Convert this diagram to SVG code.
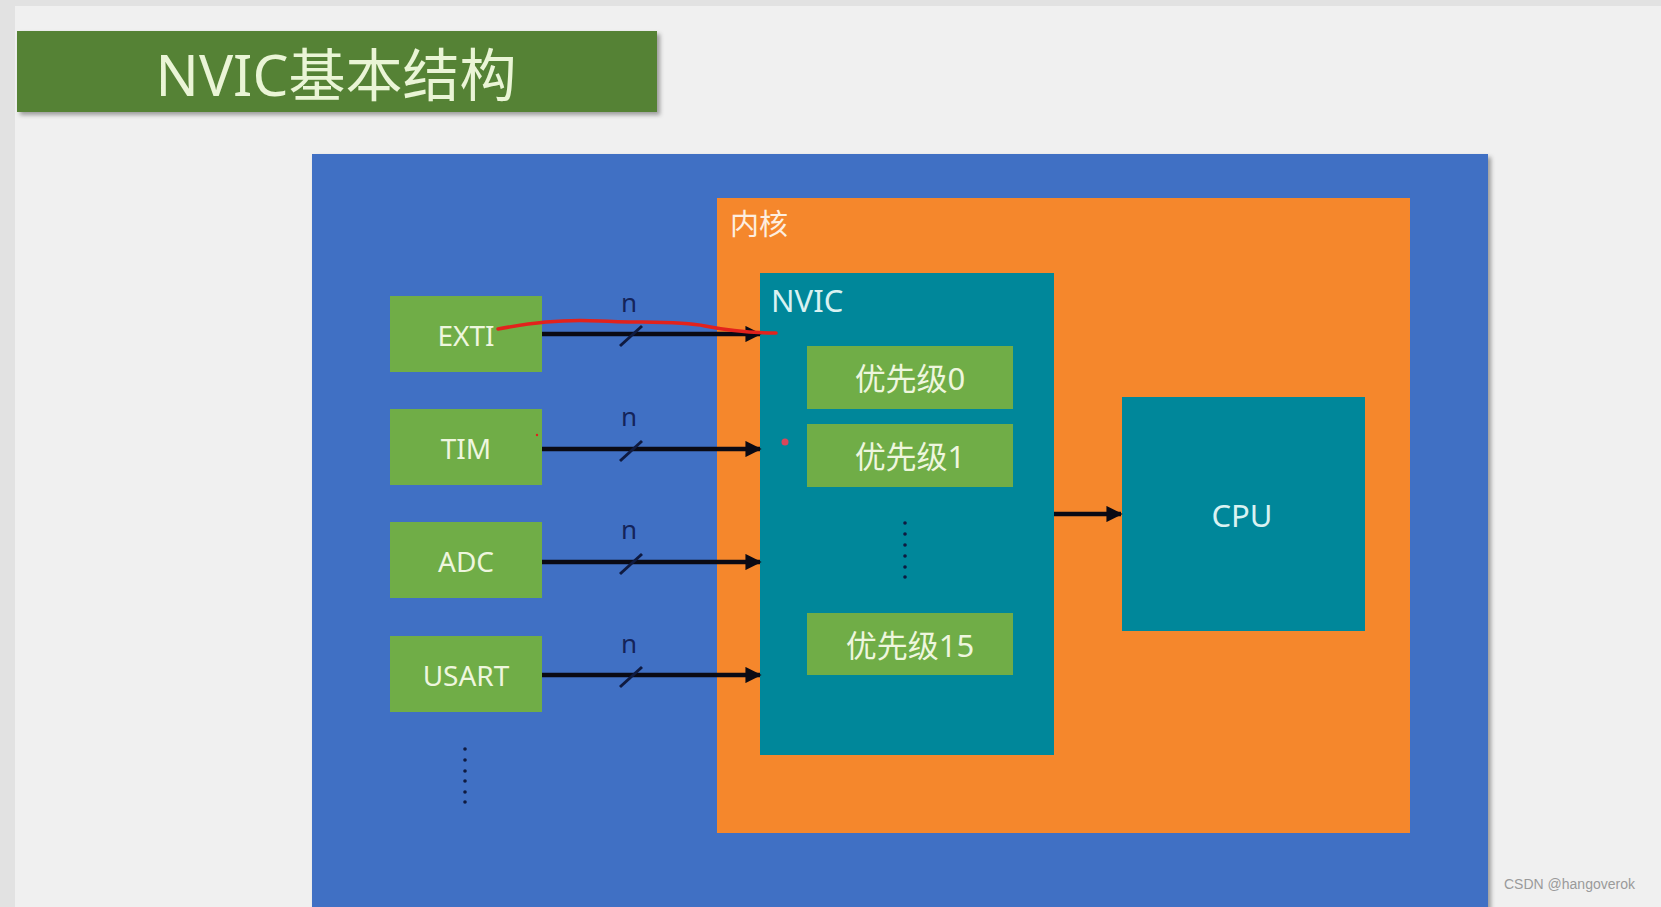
<svg xmlns="http://www.w3.org/2000/svg" width="1661" height="907" viewBox="0 0 1661 907">
<style>
.t{font-family:"Noto Sans","Noto Sans CJK SC",sans-serif;text-anchor:middle;dominant-baseline:central}
.src{fill:#70ad47}
.src-t{fill:#eef6de;font-size:28px}
.pri-t{fill:#eef6de;font-size:31px}
.pri{fill:#70ad47}
.teal{fill:#00879a}
.conn{stroke:#0a0a14;stroke-width:4.5;fill:none}
.slash{stroke:#0f1a40;stroke-width:3}
.n{fill:#14245a;font-size:26px}
.dot{fill:#0f1a40}
</style>
<defs>
<marker id="ah" viewBox="0 0 10 10" refX="9" refY="5" markerWidth="3.6" markerHeight="3.6" orient="auto" markerUnits="strokeWidth">
<path d="M0,0 L10,5 L0,10 z" fill="#0a0a14"/>
</marker>
<filter id="sh" x="-5%" y="-10%" width="115%" height="130%">
<feDropShadow dx="3" dy="3" stdDeviation="2" flood-color="#000" flood-opacity="0.35"/>
</filter>
</defs>
<rect x="0" y="0" width="1661" height="907" fill="#e2e2e2"/>
<rect x="15" y="6" width="1646" height="901" fill="#f0f0f0"/>

<g id="title">
<rect x="17" y="31" width="640" height="81" fill="#548235" filter="url(#sh)"/>
<text x="336" y="74" class="t" style="font-size:57px;fill:#eaf5d6">NVIC基本结构</text>
</g>

<g id="chip">
<rect x="312" y="154" width="1176" height="760" fill="#4170c4" filter="url(#sh)"/>
</g>

<g id="core">
<rect x="717" y="198" width="693" height="635" fill="#f5872c"/>
<text x="730" y="223" class="t" style="font-size:29px;fill:#fdeee0;text-anchor:start">内核</text>
</g>

<g id="nvic">
<rect x="760" y="273" width="294" height="482" class="teal"/>
<text x="771" y="300" class="t" style="font-size:31px;fill:#d9f2f2;text-anchor:start">NVIC</text>
</g>

<g id="pri0">
<rect x="807" y="346" width="206" height="63" class="pri"/>
<text x="910" y="378" class="t pri-t">优先级0</text>
</g>
<g id="pri1">
<rect x="807" y="424" width="206" height="63" class="pri"/>
<text x="910" y="456" class="t pri-t">优先级1</text>
</g>
<g id="pri-dots">
<circle cx="905" cy="523" r="1.8" class="dot"/>
<circle cx="905" cy="534" r="1.8" class="dot"/>
<circle cx="905" cy="545" r="1.8" class="dot"/>
<circle cx="905" cy="556" r="1.8" class="dot"/>
<circle cx="905" cy="567" r="1.8" class="dot"/>
<circle cx="905" cy="577" r="1.8" class="dot"/>
</g>
<g id="pri15">
<rect x="807" y="613" width="206" height="62" class="pri"/>
<text x="910" y="645" class="t pri-t">优先级15</text>
</g>

<g id="cpu">
<rect x="1122" y="397" width="243" height="234" class="teal"/>
<text x="1242" y="515" class="t" style="font-size:31px;fill:#d9f2f2">CPU</text>
</g>

<g id="exti">
<rect x="390" y="296" width="152" height="76" class="src"/>
<text x="466" y="335" class="t src-t">EXTI</text>
</g>
<g id="tim">
<rect x="390" y="409" width="152" height="76" class="src"/>
<text x="466" y="448" class="t src-t">TIM</text>
</g>
<g id="adc">
<rect x="390" y="522" width="152" height="76" class="src"/>
<text x="466" y="561" class="t src-t">ADC</text>
</g>
<g id="usart">
<rect x="390" y="636" width="152" height="76" class="src"/>
<text x="466" y="675" class="t src-t">USART</text>
</g>
<g id="src-dots">
<circle cx="465" cy="749" r="1.8" class="dot"/>
<circle cx="465" cy="760" r="1.8" class="dot"/>
<circle cx="465" cy="771" r="1.8" class="dot"/>
<circle cx="465" cy="781" r="1.8" class="dot"/>
<circle cx="465" cy="792" r="1.8" class="dot"/>
<circle cx="465" cy="802" r="1.8" class="dot"/>
</g>

<g id="connectors">
<line x1="542" y1="334" x2="760" y2="334" class="conn" marker-end="url(#ah)"/>
<line x1="542" y1="449" x2="760" y2="449" class="conn" marker-end="url(#ah)"/>
<line x1="542" y1="562" x2="760" y2="562" class="conn" marker-end="url(#ah)"/>
<line x1="542" y1="675" x2="760" y2="675" class="conn" marker-end="url(#ah)"/>
<line x1="1054" y1="514" x2="1121" y2="514" class="conn" marker-end="url(#ah)"/>
<line x1="620" y1="346" x2="642" y2="326" class="slash"/>
<line x1="620" y1="461" x2="642" y2="441" class="slash"/>
<line x1="620" y1="574" x2="642" y2="554" class="slash"/>
<line x1="620" y1="687" x2="642" y2="667" class="slash"/>
<text x="629" y="302" class="t n">n</text>
<text x="629" y="416" class="t n">n</text>
<text x="629" y="529" class="t n">n</text>
<text x="629" y="643" class="t n">n</text>
</g>

<g id="annotation">
<path d="M498,329 C530,323 560,319 600,321 C640,323 680,321 705,326 C730,331 752,333 776,333" stroke="#e2221c" stroke-width="3.5" fill="none" stroke-linecap="round"/>
<circle cx="785" cy="442" r="3.5" fill="#d9475a"/>
<circle cx="537" cy="435" r="1.2" fill="#e2221c"/>
</g>

<text x="1504" y="889" style="font-family:'Liberation Sans',sans-serif;font-size:14px;fill:#9a9a9a">CSDN @hangoverok</text>
</svg>
